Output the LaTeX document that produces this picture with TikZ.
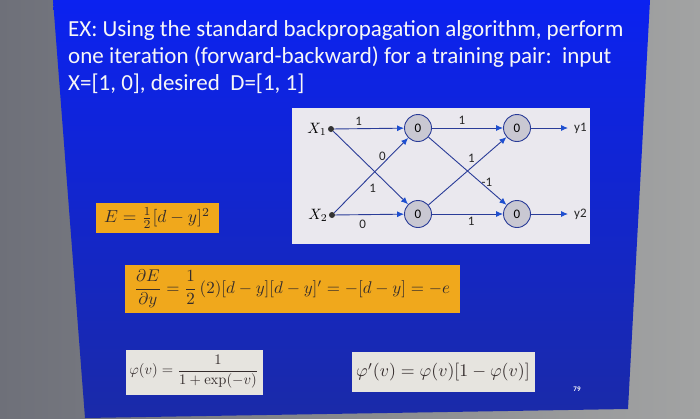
\documentclass[tikz,border=0pt]{standalone}
\usepackage{amsmath}
\usepackage{graphicx}
\usepackage{fontspec}
\usetikzlibrary{arrows.meta}
\newfontfamily\carlito{Carlito}
\definecolor{bgL}{HTML}{6E7079}
\definecolor{bgR}{HTML}{A2A3A3}
\definecolor{slideA}{HTML}{0B22F0}
\definecolor{slideB}{HTML}{1A2AA8}
\definecolor{panel}{HTML}{EAE8EE}
\definecolor{wire}{HTML}{2A3C98}
\definecolor{tip}{HTML}{1E4FD0}
\definecolor{cellfill}{HTML}{C9C8D2}
\definecolor{orangebox}{HTML}{F0A81C}
\definecolor{eqtext}{HTML}{342C2C}
\definecolor{whitebox}{HTML}{E6E4DF}
\tikzset{
  dot/.style={circle,fill=black!80,inner sep=0pt,minimum size=6pt},
  neuron/.style={circle,draw=wire,line width=0.9pt,fill=cellfill,minimum size=27pt,inner sep=0pt,font=\carlito\fontsize{13}{13}\selectfont},
  edge/.style={draw=wire,line width=0.9pt,-{Latex[length=7pt,width=6pt,color=tip]}},
  wlab/.style={font=\carlito\fontsize{13}{13}\selectfont,text=black!85,inner sep=1pt},
  titletext/.style={anchor=base west,text=white!94!gray,font=\carlito\fontsize{23}{27}\selectfont,inner sep=0pt},
  eqbox/.style={fill=orangebox,text=eqtext,inner sep=0pt},
  wbox/.style={fill=whitebox,text=eqtext,inner sep=0pt}
}
\begin{document}
\begin{tikzpicture}[x=1pt,y=-1pt]
\useasboundingbox (0,0) rectangle (700,418);
\shade[left color=bgL,right color=bgR] (0,0) rectangle (700,418);
\shade[left color=slideA,right color=slideB,shading angle=0] (53,0) -- (650,0) -- (628,409) -- (85,418) -- cycle;
% title
\node[titletext] (t1) at (68,36) {EX: Using the standard backpropagation algorithm, perform};
\node[titletext] (t2) at (68,63) {one iteration (forward-backward) for a training pair:\ \ input};
\node[titletext] (t3) at (68,90) {X=[1, 0], desired\ \ D=[1, 1]};
% network panel
\fill[panel] (292,108) rectangle (590,244);
\node[dot] (x1) at (331,129) {};
\node[dot] (x2) at (332,215) {};
\node[neuron] (h1) at (418,128) {0};
\node[neuron] (h2) at (418,214) {0};
\node[neuron] (o1) at (517,128) {0};
\node[neuron] (o2) at (517,214) {0};
\node[anchor=east,inner sep=1pt] (lx1) at (x1.west) {\scalebox{1.5}{$X_1$}};
\node[anchor=east,inner sep=1pt] (lx2) at (x2.west) {\scalebox{1.5}{$X_2$}};
\coordinate (y1e) at (568,128);
\coordinate (y2e) at (568,214);
\node[wlab,anchor=west] (ly1) at (573,128) {y1};
\node[wlab,anchor=west] (ly2) at (573,214) {y2};
\draw[edge] (x1) -- node[wlab,above=2pt,pos=0.35] (w11) {1} (h1);
\draw[edge] (x2) -- node[wlab,below=4pt,pos=0.4] (w22) {0} (h2);
\draw[edge] (x2) -- node[wlab,pos=0.76,xshift=-8pt] (w21) {0} (h1);
\draw[edge] (x1) -- node[wlab,pos=0.78,xshift=-19pt] (w12) {1} (h2);
\draw[edge] (h1) -- node[wlab,above=2pt,pos=0.42] (v11) {1} (o1);
\draw[edge] (h2) -- node[wlab,below=2pt,pos=0.55] (v22) {1} (o2);
\draw[edge] (h2) -- node[wlab,pos=0.69,xshift=-11pt] (v21) {1} (o1);
\draw[edge] (h1) -- node[wlab,pos=0.66,xshift=7pt] (v12) {-1} (o2);
\draw[edge] (o1) -- (y1e);
\draw[edge] (o2) -- (y2e);
% equations
\node[eqbox,minimum width=123pt,minimum height=30pt] (eqE) at (157,218) {\scalebox{1.75}{$E=\frac{1}{2}[d-y]^2$}};
\node[eqbox,minimum width=335pt,minimum height=48pt] (eqD) at (292,289) {\scalebox{1.7}{$\dfrac{\partial E}{\partial y}=\dfrac{1}{2}\,(2)[d-y][d-y]'=-[d-y]=-e$}};
\node[wbox,minimum width=137pt,minimum height=45pt] (eqP) at (194,372) {\scalebox{1.46}{$\varphi(v)=\dfrac{1}{1+\exp(-v)}$}};
\node[wbox,minimum width=183pt,minimum height=40pt] (eqQ) at (443,372) {\scalebox{1.78}{$\varphi'(v)=\varphi(v)[1-\varphi(v)]$}};
\node[text=white,font=\carlito\bfseries\fontsize{7}{7}\selectfont] (pg) at (577,389) {79};
\end{tikzpicture}
\end{document}
